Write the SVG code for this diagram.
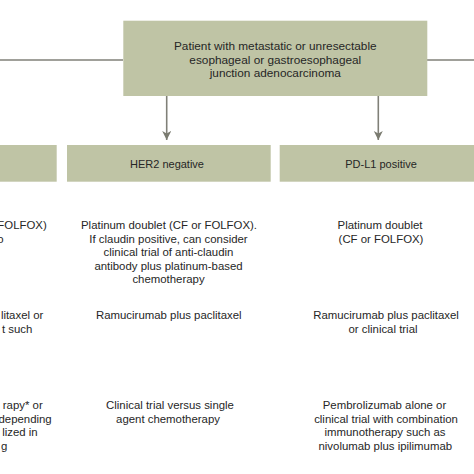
<svg xmlns="http://www.w3.org/2000/svg" width="474" height="474" viewBox="0 0 474 474">
<style>
.box{fill:#bfc4a5}
.t{font-family:"Liberation Sans",Arial,sans-serif;font-size:11.4px;fill:#262626;text-anchor:middle}
.e{text-anchor:end}
.ttl{font-size:11.8px}
.lbl{font-size:11px}
.ln{stroke:#808078;stroke-width:1.6;fill:none}
</style>
<defs>
<marker id="ah" markerUnits="userSpaceOnUse" markerWidth="10" markerHeight="10" refX="9" refY="4.5" orient="auto">
<path d="M0,0 L9,4.5 L0,9 L2.5,4.5 z" fill="#7a7b70"/>
</marker>
</defs>
<rect width="474" height="474" fill="#ffffff"/>
<g id="connectors">
<line class="ln" x1="0" y1="60" x2="123" y2="60"/>
<line class="ln" x1="427" y1="60" x2="474" y2="60"/>
<line class="ln" x1="166.7" y1="96" x2="166.7" y2="140" marker-end="url(#ah)"/>
<line class="ln" x1="378.3" y1="96" x2="378.3" y2="140" marker-end="url(#ah)"/>
</g>
<g id="root">
<rect class="box" x="123.3" y="20.7" width="304" height="75.3"/>
<text class="t ttl" x="275.3" y="50">Patient with metastatic or unresectable</text>
<text class="t ttl" x="275.3" y="63.7">esophageal or gastroesophageal</text>
<text class="t ttl" x="275.3" y="77.4">junction adenocarcinoma</text>
</g>
<g id="left-box">
<rect class="box" x="0" y="145" width="56.7" height="36.7"/>
</g>
<g id="her2-negative">
<rect class="box" x="67" y="145" width="203.7" height="36.7"/>
<text class="t lbl" x="167" y="167.5">HER2 negative</text>
</g>
<g id="pdl1-positive">
<rect class="box" x="279.7" y="145" width="194.3" height="36.7"/>
<text class="t lbl" x="381" y="167.5">PD-L1 positive</text>
</g>
<g id="left-first">
<text class="t e" x="46.7" y="229">FOLFOX)</text>
<text class="t e" x="3.5" y="242.5">o</text>
</g>
<g id="left-second">
<text class="t e" x="43.3" y="319">litaxel or</text>
<text class="t e" x="32.3" y="332.5">t such</text>
</g>
<g id="left-third">
<text class="t e" x="42.7" y="409">rapy* or</text>
<text class="t e" x="51.7" y="422.5">depending</text>
<text class="t e" x="37.7" y="436">lized in</text>
<text class="t e" x="7.3" y="449.5">g</text>
</g>
<g id="her2-first">
<text class="t" x="169" y="229">Platinum doublet (CF or FOLFOX).</text>
<text class="t" x="168.5" y="242.5">If claudin positive, can consider</text>
<text class="t" x="168.5" y="256">clinical trial of anti-claudin</text>
<text class="t" x="168.5" y="269.5">antibody plus platinum-based</text>
<text class="t" x="168.5" y="283">chemotherapy</text>
</g>
<g id="her2-second">
<text class="t" x="168.8" y="319">Ramucirumab plus paclitaxel</text>
</g>
<g id="her2-third">
<text class="t" x="170" y="409">Clinical trial versus single</text>
<text class="t" x="168" y="422.5">agent chemotherapy</text>
</g>
<g id="pdl1-first">
<text class="t" x="380" y="229">Platinum doublet</text>
<text class="t" x="381" y="242.5">(CF or FOLFOX)</text>
</g>
<g id="pdl1-second">
<text class="t" x="386" y="319">Ramucirumab plus paclitaxel</text>
<text class="t" x="383" y="332.5">or clinical trial</text>
</g>
<g id="pdl1-third">
<text class="t" x="384.5" y="409">Pembrolizumab alone or</text>
<text class="t" x="386" y="422.5">clinical trial with  combination</text>
<text class="t" x="385" y="436">immunotherapy such as</text>
<text class="t" x="385.3" y="449.5">nivolumab plus ipilimumab</text>
</g>
</svg>
